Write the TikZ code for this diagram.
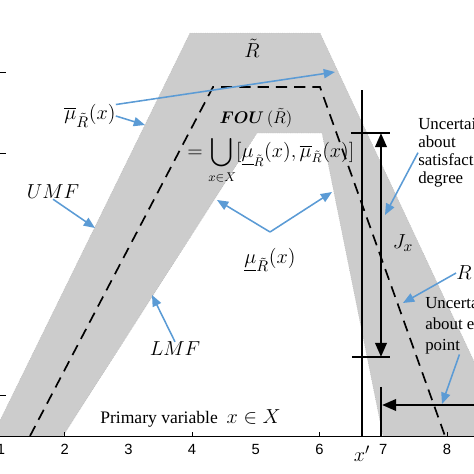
\documentclass[tikz,border=0pt]{standalone}
\usepackage{amsmath}
\usepackage{fontspec}
\setmainfont{Liberation Serif}
\newfontfamily\axisfont{Liberation Sans}
\usetikzlibrary{arrows.meta}
\definecolor{fougray}{RGB}{204,204,204}
\definecolor{noteblue}{RGB}{91,155,213}
\begin{document}
\begin{tikzpicture}[x=1cm,y=1cm,
  note/.style={draw=noteblue,line width=1.1pt,-{Triangle[length=8pt,width=6.5pt]}},
  bar/.style={line width=2pt},
  bigtip/.style={line width=2pt,-{Triangle[length=10pt,width=8pt]}},
  mathlbl/.style={inner sep=0pt,font=\fontsize{15}{17}\selectfont},
  notetext/.style={inner sep=0pt,align=left,anchor=north west},
  ticklbl/.style={inner sep=0pt,font=\axisfont\fontsize{10.5}{12}\selectfont}]
\useasboundingbox (0,0) rectangle (11.85,11.85);
\clip (0,0) rectangle (11.85,11.85);

\fill[fougray,even odd rule] (-0.19,0.95) -- (4.75,11.025) -- (8.0,11.025) -- (12.725,0.95) -- cycle
  (1.575,0.95) -- (6.425,8.525) -- (8.05,8.525) -- (9.575,0.95) -- cycle;
\draw[gray!70,densely dotted,line width=0.3pt] (-0.19,0.95) -- (4.75,11.025) -- (8.0,11.025) -- (12.725,0.95);
\draw[gray!70,densely dotted,line width=0.3pt] (1.575,0.95) -- (6.425,8.525) -- (8.05,8.525) -- (9.575,0.95);

\draw[line width=1.2pt,dash pattern=on 8pt off 5pt] (0.75,0.95) -- (5.325,9.675) -- (8.0,9.675) -- (11.125,0.95);

\draw[line width=0.6pt] (0,0.95) -- (11.85,0.95);
\foreach \v in {2,4,6,8}
  \draw[line width=0.5pt] ({0.025+(\v-1)*1.5925},0.95) -- ++(0,0.1);
\foreach \v in {1,...,8}
  \node[ticklbl] (tick\v) at ({0.025+(\v-1)*1.5925},0.625) {\v};
\foreach \y in {10.05,8.025,1.975}
  \draw[line width=0.5pt] (0,\y) -- (0.15,\y);

\coordinate (xtop) at (9.05,9.6);
\coordinate (xbot) at (9.05,0.95);
\coordinate (jtop) at (9.525,8.525);
\coordinate (jbot) at (9.525,2.925);
\coordinate (etop) at (9.525,2.175);
\coordinate (ebot) at (9.525,0.95);
\coordinate (hstart) at (12.1,1.725);
\coordinate (hend) at (9.55,1.725);
\draw[bar] (xtop) -- (xbot);
\draw[bar] (8.775,8.525) -- (9.75,8.525);
\draw[bar] (8.8,2.925) -- (9.75,2.925);
\draw[bigtip,{Triangle[length=10pt,width=8pt]}-{Triangle[length=10pt,width=8pt]}] (jtop) -- (jbot);
\draw[bar] (etop) -- (ebot);
\draw[bigtip] (hstart) -- (hend);

\node[mathlbl] (xp) at (9.05,0.5) {$x'$};
\node[mathlbl,font=\fontsize{14}{16}\selectfont] (rtop) at (6.3,10.65) {$\tilde{R}$};
\node[inner sep=0pt,font=\fontsize{12}{14}\selectfont] (fou) at (6.4,8.9) {$\boldsymbol{FOU}\,(\tilde{R})$};
\node[inner sep=0pt,anchor=base west,font=\fontsize{13.5}{15}\selectfont] (union) at (4.675,7.9)
  {$=\displaystyle\bigcup_{x\in X}[\underline{\mu}_{\tilde{R}}(x),\overline{\mu}_{\tilde{R}}(x)]$};
\node[mathlbl] (upper) at (2.25,8.95) {$\overline{\mu}_{\tilde{R}}(x)$};
\node[mathlbl] (umf) at (1.325,7.05) {$UMF$};
\node[mathlbl] (lmf) at (4.375,3.125) {$LMF$};
\node[mathlbl] (lower) at (6.75,5.35) {$\underline{\mu}_{\tilde{R}}(x)$};
\node[mathlbl] (jx) at (10.075,5.775) {$J_x$};
\node[mathlbl] (rr) at (11.6,5.025) {$R$};
\node[notetext,font=\fontsize{12}{12.8}\selectfont] (sat) at (10.45,8.9) {Uncertainty\\about\\satisfaction\\degree};
\node[notetext,font=\fontsize{12}{14.9}\selectfont] (endp) at (10.625,4.42) {Uncertainty\\about end\\point};
\node[inner sep=0pt,anchor=base west] (prim) at (2.5,1.275)
  {\fontsize{12.5}{14}\selectfont Primary variable\ \ \fontsize{15}{17}\selectfont$x\in X$};

\coordinate (umftop) at (8.375,10.05);
\coordinate (umfside) at (3.625,8.725);
\coordinate (umfhit) at (2.375,6.15);
\coordinate (lmfhit) at (3.8,4.475);
\coordinate (vtx) at (6.75,6.05);
\coordinate (lowleft) at (5.425,6.85);
\coordinate (lowright) at (8.3,7.05);
\coordinate (jhit) at (9.625,6.475);
\coordinate (rhit) at (10.075,4.275);
\coordinate (endhit) at (11.05,1.75);
\draw[note] (upper.north east) -- (umftop);
\draw[note] (upper.east) -- (umfside);
\draw[note] (umf.south) -- (umfhit);
\draw[note] (lmf.north) -- (lmfhit);
\draw[note] (vtx) -- (lowleft);
\draw[note] (vtx) -- (lowright);
\draw[note] (sat.west) -- (jhit);
\draw[note] (rr.west) -- (rhit);
\draw[note] ([xshift=-4pt]endp.south) -- (endhit);
\end{tikzpicture}
\end{document}
